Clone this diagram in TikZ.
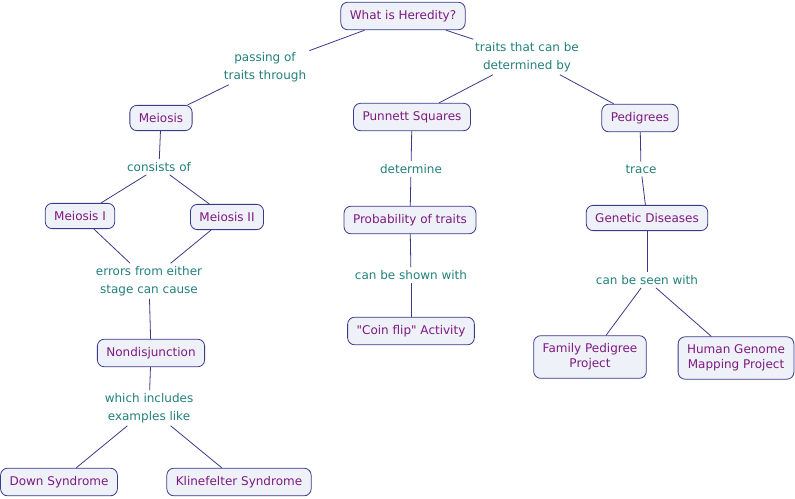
\documentclass[tikz,border=0pt]{standalone}
\usepackage{fontspec}
\setmainfont{DejaVu Sans}
\definecolor{boxfill}{HTML}{EEF1F7}
\definecolor{boxline}{HTML}{3A3A8C}
\definecolor{boxtext}{HTML}{7E1A80}
\definecolor{linktext}{HTML}{21807C}
\tikzset{
  concept/.style={draw=boxline, fill=boxfill, text=boxtext, rounded corners=7pt,
    line width=0.8pt, inner xsep=9pt, inner ysep=8pt, align=center,
    font=\fontsize{12}{15}\selectfont},
  linkword/.style={text=linktext, align=center, inner sep=3pt,
    font=\fontsize{12}{17.5}\selectfont},
  conn/.style={draw=boxline, line width=0.8pt}
}
\begin{document}
\begin{tikzpicture}[x=1pt, y=-1pt]
  \useasboundingbox (0,0) rectangle (795,498);
  \node[concept] (heredity) at (403,16) {What is Heredity?};
  \node[linkword] (passing) at (265,67) {passing of\\traits through};
  \node[linkword] (traits) at (527,57) {traits that can be\\determined by};
  \node[concept] (meiosis) at (161,118) {Meiosis};
  \node[concept] (punnett) at (412,117) {Punnett Squares};
  \node[concept] (pedigrees) at (640,118) {Pedigrees};
  \node[linkword] (consists) at (159,167) {consists of};
  \node[linkword] (determine) at (411,169) {determine};
  \node[linkword] (trace) at (641,169) {trace};
  \node[concept] (meiosisone) at (80,216) {Meiosis I};
  \node[concept] (meiosistwo) at (227,217) {Meiosis II};
  \node[concept] (probability) at (410,220) {Probability of traits};
  \node[concept] (genetic) at (647,218) {Genetic Diseases};
  \node[linkword] (errors) at (149,281) {errors from either\\stage can cause};
  \node[linkword] (shown) at (411,275) {can be shown with};
  \node[linkword] (seen) at (647,280) {can be seen with};
  \node[concept] (coinflip) at (411,331) {\textquotedbl Coin flip\textquotedbl{} Activity};
  \node[concept] (family) at (590,357) {Family Pedigree\\Project};
  \node[concept] (genome) at (736,358) {Human Genome\\Mapping Project};
  \node[concept] (nondisj) at (151,353) {Nondisjunction};
  \node[linkword] (includes) at (149,408) {which includes\\examples like};
  \node[concept] (down) at (59,482) {Down Syndrome};
  \node[concept] (kline) at (239,482) {Klinefelter Syndrome};
  \draw[conn] (heredity) -- (passing);
  \draw[conn] (passing) -- (meiosis);
  \draw[conn] (heredity) -- (traits);
  \draw[conn] (traits) -- (punnett);
  \draw[conn] (traits) -- (pedigrees);
  \draw[conn] (meiosis) -- (consists);
  \draw[conn] (consists) -- (meiosisone);
  \draw[conn] (consists) -- (meiosistwo);
  \draw[conn] (punnett) -- (determine);
  \draw[conn] (determine) -- (probability);
  \draw[conn] (pedigrees) -- (trace);
  \draw[conn] (trace) -- (genetic);
  \draw[conn] (meiosisone) -- (errors);
  \draw[conn] (meiosistwo) -- (errors);
  \draw[conn] (errors) -- (nondisj);
  \draw[conn] (probability) -- (shown);
  \draw[conn] (shown) -- (coinflip);
  \draw[conn] (genetic) -- (seen);
  \draw[conn] (seen) -- (family);
  \draw[conn] (seen) -- (genome);
  \draw[conn] (nondisj) -- (includes);
  \draw[conn] (includes) -- (down);
  \draw[conn] (includes) -- (kline);
\end{tikzpicture}
\end{document}
